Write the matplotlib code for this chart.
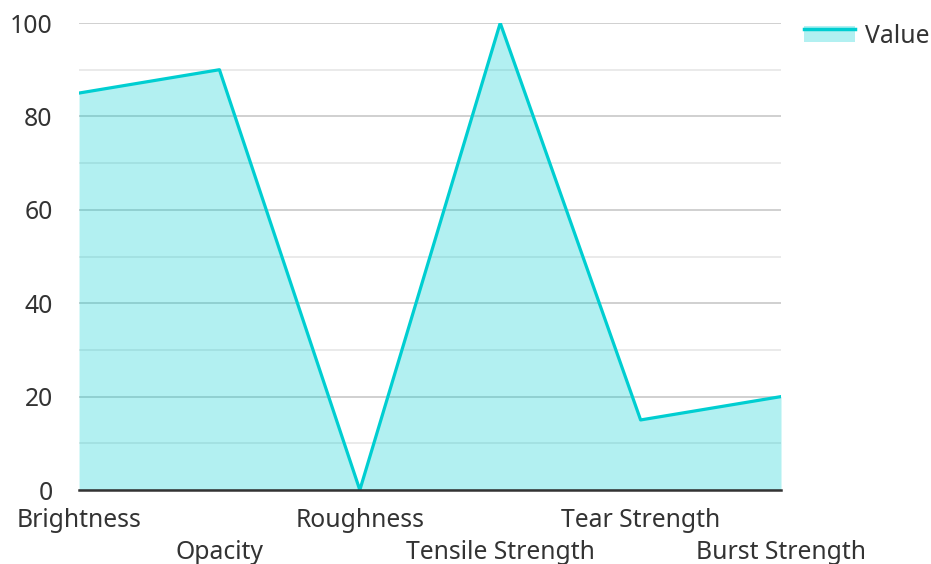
import numpy as np
import matplotlib.pyplot as plt
from matplotlib.legend_handler import HandlerBase
from matplotlib.patches import Rectangle
from matplotlib.lines import Line2D

plt.rcParams['font.family'] = ['Noto Sans', 'DejaVu Sans']

categories = ['Brightness', 'Opacity', 'Roughness', 'Tensile Strength',
              'Tear Strength', 'Burst Strength']
values = [85, 90, 0, 100, 15, 20]
y_ticks = [0, 20, 40, 60, 80, 100]

line_color = '#00CED1'
fsize = 17.8


class AreaHandler(HandlerBase):
    def create_artists(self, legend, orig_handle, xdescent, ydescent,
                       width, height, fontsize, trans):
        rect = Rectangle((-xdescent, -ydescent), width, height,
                         facecolor=line_color, alpha=0.3, edgecolor='none',
                         transform=trans)
        ln = Line2D([-xdescent, -xdescent + width],
                    [-ydescent + height * 0.85] * 2,
                    color=line_color, lw=2.5, transform=trans)
        return [rect, ln]


fig = plt.figure(figsize=(9.31, 5.64), dpi=100)
ax = fig.add_axes([0.0849, 0.1312, 0.754, 0.828])

x = np.arange(len(categories))
ax.fill_between(x, values, 0, color=line_color, alpha=0.3, lw=0, zorder=2)
ax.plot(x, values, color=line_color, lw=2.3, zorder=3)

ax.set_xlim(0, len(categories) - 1)
ax.set_ylim(0, 100)
ax.set_yticks(y_ticks)
ax.set_yticks(np.arange(10, 100, 20), minor=True)
ax.grid(axis='y', which='major', color='#c8c8c8', lw=1.2, zorder=1)
ax.grid(axis='y', which='minor', color='#e6e6e6', lw=1.2, zorder=1)
ax.set_axisbelow(True)

ax.set_xticks(x)
ax.set_xticklabels(categories)
ax.tick_params(axis='both', which='both', length=0, labelsize=fsize,
               labelcolor='#333333')
ax.tick_params(axis='y', pad=19)
# alternate the category labels over two rows
for i, tick in enumerate(ax.xaxis.get_major_ticks()):
    tick.set_pad(13 if i % 2 == 0 else 36)

for s in ['top', 'right', 'left']:
    ax.spines[s].set_visible(False)
ax.spines['bottom'].set_color('#333333')
ax.spines['bottom'].set_linewidth(1.8)
ax.spines['bottom'].set_zorder(4)

ax.legend([object()], ['Value'], handler_map={object: AreaHandler()},
          loc='upper left', bbox_to_anchor=(804 / 931, 1 - 24 / 564),
          bbox_transform=fig.transFigure, frameon=False, fontsize=fsize,
          borderpad=0, borderaxespad=0,
          handlelength=2.05, handleheight=0.6, handletextpad=0.4,
          labelcolor='#333333')

fig.savefig('out.png', dpi=100)
